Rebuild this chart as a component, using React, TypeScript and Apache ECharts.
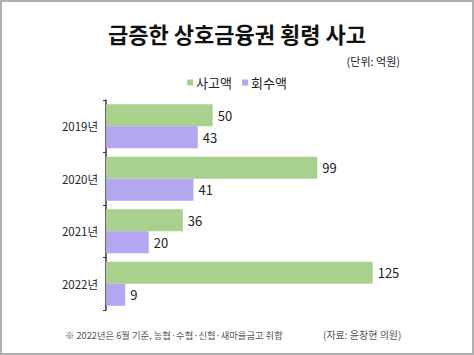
import React, { useEffect, useRef } from "react";
import * as echarts from "echarts";

const categories = ["2019년", "2020년", "2021년", "2022년"];
const accidentAmounts = [50, 99, 36, 125];
const recoveredAmounts = [43, 41, 20, 9];
const seriesNames = ["사고액", "회수액"];
const titleText = "급증한 상호금융권 횡령 사고";
const unitText = "(단위: 억원)";
const noteText = "※ 2022년은 6월 기준, 농협·수협·신협·새마을금고 취합";
const sourceText = "(자료: 윤창현 의원)";

const FONT = "'Noto Sans CJK KR', 'Noto Sans', sans-serif";

export default function App() {
  const ref = useRef<HTMLDivElement>(null);
  useEffect(() => {
    if (!ref.current) return;
    const chart = echarts.init(ref.current, null, { renderer: "svg" });
    chart.setOption({
      animation: false,
      backgroundColor: "#ffffff",
      title: {
        text: titleText,
        left: "center",
        top: 15,
        textStyle: { fontFamily: FONT, fontSize: 22, fontWeight: "bold", color: "#111" },
      },
      legend: {
        data: seriesNames,
        top: 69,
        left: "center",
        icon: "rect",
        itemWidth: 6,
        itemHeight: 6,
        itemGap: 10,
        textStyle: { fontFamily: FONT, fontSize: 13, color: "#222", padding: [0, 0, 0, -2] },
      },
      grid: { left: 104, top: 98, height: 210, right: 46 },
      xAxis: {
        type: "value",
        min: 0,
        max: 150,
        show: false,
      },
      yAxis: {
        type: "category",
        data: categories,
        inverse: true,
        axisLine: { show: true, lineStyle: { color: "#333", width: 1.5 } },
        axisTick: { show: true, length: 3, lineStyle: { color: "#333" } },
        axisLabel: { fontFamily: FONT, fontSize: 11.5, color: "#222", margin: 8 },
        splitLine: { show: false },
      },
      series: [
        {
          name: seriesNames[0],
          type: "bar",
          data: accidentAmounts,
          itemStyle: { color: "#a9d18e" },
          barGap: "0%",
          barCategoryGap: "16%",
          label: { show: true, position: "right", distance: 5, fontFamily: FONT, fontSize: 13, color: "#222" },
        },
        {
          name: seriesNames[1],
          type: "bar",
          data: recoveredAmounts,
          itemStyle: { color: "#b4a7f0" },
          barGap: "0%",
          barCategoryGap: "16%",
          label: { show: true, position: "right", distance: 5, fontFamily: FONT, fontSize: 13, color: "#222" },
        },
      ],
      graphic: [
        {
          type: "text",
          right: 72,
          top: 53,
          style: { text: unitText, fontFamily: FONT, fontSize: 11, fill: "#222" },
        },
        {
          type: "text",
          left: 63,
          top: 328,
          style: { text: noteText, fontFamily: FONT, fontSize: 9.3, fill: "#555" },
        },
        {
          type: "text",
          left: 321,
          top: 327,
          style: { text: sourceText, fontFamily: FONT, fontSize: 10, fill: "#555" },
        },
      ],
    });
    return () => chart.dispose();
  }, []);
  return (
    <div
      style={{
        position: "fixed",
        left: 0,
        top: 0,
        width: 474,
        height: 355,
        boxSizing: "border-box",
        border: "2px solid #b0b0b0",
        background: "#fff",
      }}
    >
      <div ref={ref} style={{ width: 470, height: 351 }} />
    </div>
  );
}
